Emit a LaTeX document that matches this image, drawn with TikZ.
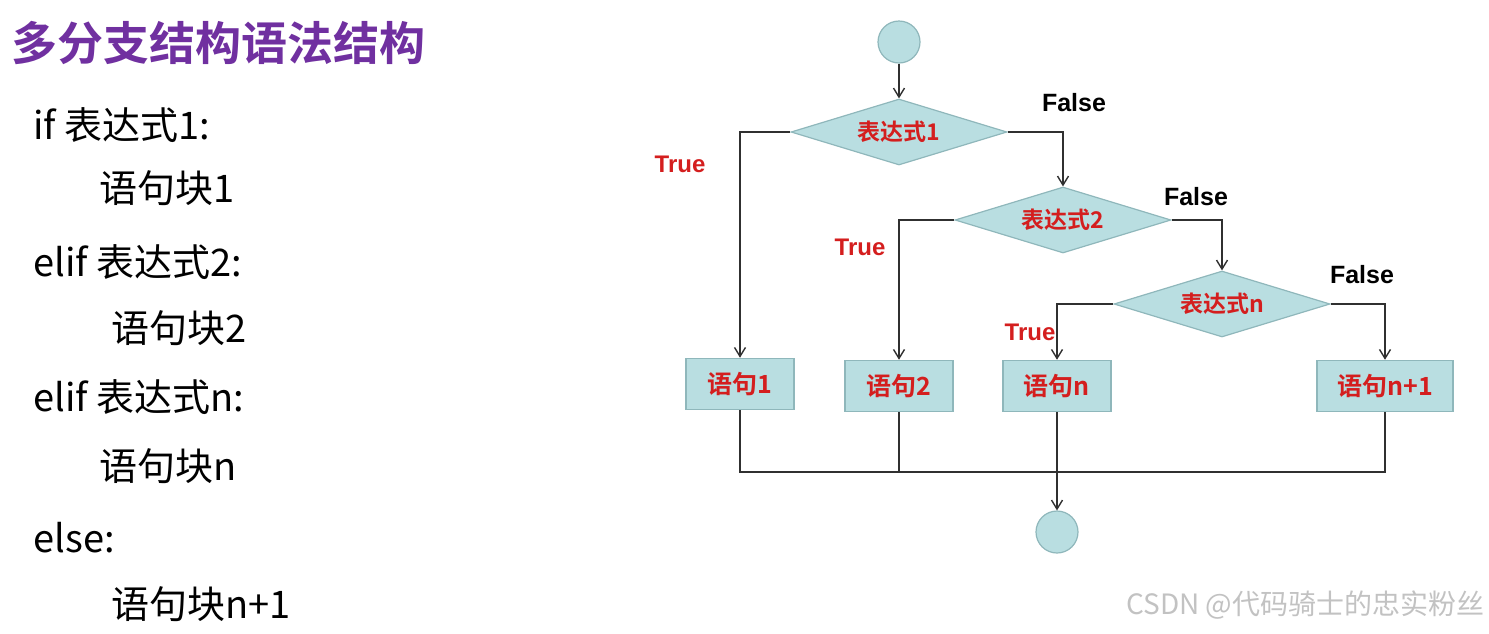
\documentclass[tikz,border=0pt]{standalone}
\usepackage{fontspec}
\setmainfont{Noto Sans CJK SC}[BoldFont={Noto Sans CJK SC Bold}]
\newfontfamily\arialfont{Liberation Sans}
\usetikzlibrary{shapes.geometric, arrows.meta}
\definecolor{titlepurple}{HTML}{7030A0}
\definecolor{shapefill}{HTML}{B9DEE1}
\definecolor{shapeline}{HTML}{8FB7BB}
\definecolor{labelred}{HTML}{D41E1E}
\definecolor{linegray}{HTML}{303030}
\tikzset{
  cond/.style={diamond, draw=shapeline, line width=1.2pt, fill=shapefill, inner sep=0pt,
    minimum width=216pt, minimum height=66pt, aspect=3.3,
    text=labelred, font=\fontsize{23}{23}\selectfont\bfseries},
  stmt/.style={rectangle, draw=shapeline, line width=1.5pt, fill=shapefill,
    minimum width=108pt, minimum height=51pt,
    text=labelred, font=\fontsize{25}{25}\selectfont\bfseries},
  term/.style={circle, draw=shapeline, line width=1.2pt, fill=shapefill, minimum size=42pt, inner sep=0pt},
  flow/.style={draw=linegray, line width=1.4pt},
  truelbl/.style={text=labelred, font=\arialfont\fontsize{24}{24}\selectfont\bfseries},
  falselbl/.style={text=black, font=\arialfont\fontsize{25}{25}\selectfont\bfseries},
  codeline/.style={anchor=west, font=\fontsize{38}{38}\selectfont}
}
\begin{document}
\begin{tikzpicture}[x=1pt, y=-1pt, >={Straight Barb[length=9pt, width=11pt]}]
\useasboundingbox (0,0) rectangle (1489,633);
% title and code
\node[anchor=west, text=titlepurple, font=\fontsize{46}{46}\selectfont\bfseries] (title) at (8,43) {多分支结构语法结构};
\node[codeline] (c1) at (30,125) {if 表达式1:};
\node[codeline] (c2) at (96,188) {语句块1};
\node[codeline] (c3) at (30,262) {elif 表达式2:};
\node[codeline] (c4) at (108,328) {语句块2};
\node[codeline] (c5) at (30,397) {elif 表达式n:};
\node[codeline] (c6) at (96,466) {语句块n};
\node[codeline] (c7) at (30,538) {else:};
\node[codeline] (c8) at (108,604) {语句块n+1};
% flowchart
\node[term] (start) at (899,42) {};
\node[cond] (d1) at (899,132) {表达式1};
\node[cond] (d2) at (1063,220) {表达式2};
\node[cond] (dn) at (1222,304) {表达式n};
\node[stmt] (b1) at (740,384) {语句1};
\node[stmt] (b2) at (899,386) {语句2};
\node[stmt] (bn) at (1057,386) {语句n};
\node[stmt, minimum width=136pt] (bm) at (1385,386) {语句n+1};
\node[term] (stop) at (1057,532) {};
\coordinate (join) at (1057,472);
\draw[flow,->] (start) -- (d1.north);
\draw[flow,->] (d1.west) -| (b1.north);
\draw[flow,->] (d1.east) -| (d2.north);
\draw[flow,->] (d2.west) -| (b2.north);
\draw[flow,->] (d2.east) -| (dn.north);
\draw[flow,->] (dn.west) -| (bn.north);
\draw[flow,->] (dn.east) -| (bm.north);
\draw[flow] (b1.south) -- (b1.south |- join) -- (bm.south |- join) -- (bm.south);
\draw[flow] (b2.south) -- (b2.south |- join);
\draw[flow,->] (bn.south) -- (stop.north);
\node[truelbl] (t1) at (680,164) {True};
\node[truelbl] (t2) at (860,247) {True};
\node[truelbl] (t3) at (1030,332) {True};
\node[falselbl] (f1) at (1074,103) {False};
\node[falselbl] (f2) at (1196,197) {False};
\node[falselbl] (f3) at (1362,275) {False};
% watermark
\node[anchor=east, text=black!24, font=\fontsize{28}{28}\selectfont] (mark) at (1488,605) {CSDN @代码骑士的忠实粉丝};
\end{tikzpicture}
\end{document}
